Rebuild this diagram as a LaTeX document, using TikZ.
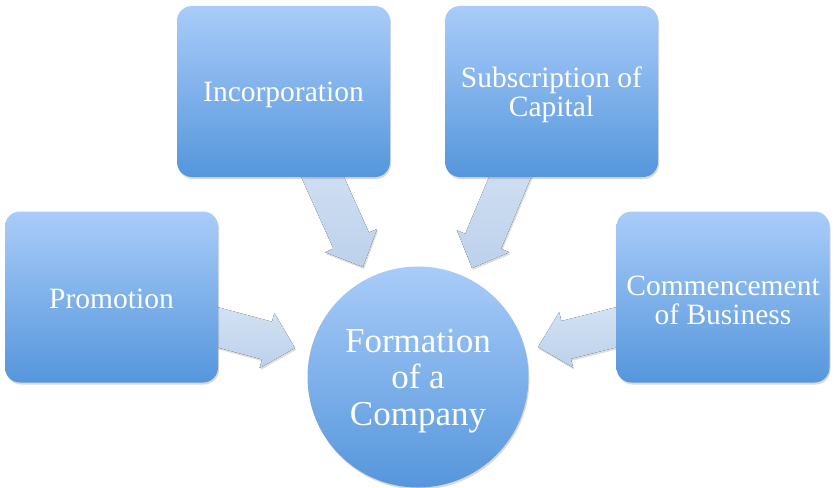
\documentclass[tikz,border=0pt]{standalone}
\usepackage{fontspec}
\setmainfont{Liberation Serif}
\usetikzlibrary{calc,shadows}
\definecolor{boxtop}{HTML}{A9CCF9}
\definecolor{boxbot}{HTML}{5596DC}
\definecolor{arrtop}{HTML}{D6E4F5}
\definecolor{arrbot}{HTML}{BDD1EB}
\tikzset{
  boxnode/.style={rounded corners=15pt, top color=boxtop, bottom color=boxbot,
    draw=none, text=white, align=center, inner sep=0pt,
    minimum width=213pt, minimum height=171pt,
    font=\fontsize{29.5}{29}\selectfont,
    drop shadow={shadow xshift=1pt, shadow yshift=-2pt, opacity=0.3}},
  boxtext/.style={text=white, align=center, inner sep=0pt,
    font=\fontsize{29.5}{29}\selectfont},
  hubnode/.style={circle, top color=boxtop, bottom color=boxbot, draw=none,
    inner sep=0pt, minimum size=221pt,
    drop shadow={shadow xshift=1pt, shadow yshift=-2pt, opacity=0.3}},
  hubtext/.style={text=white, align=center, inner sep=0pt,
    font=\fontsize{35}{36.5}\selectfont},
  arrowfill/.style={top color=arrtop, bottom color=arrbot, draw=none,
    drop shadow={shadow xshift=1pt, shadow yshift=-2pt, opacity=0.25}}
}
\newcommand\blockarrow[2]{%
  \path ($(#2)!29pt!(#1)$) coordinate (neck);
  \fill[arrowfill] ($(#1)!19.5pt!90:(#2)$) -- ($(neck)!19.5pt!-90:(#1)$)
    -- ($(neck)!28.5pt!-90:(#1)$) -- (#2) -- ($(neck)!28.5pt!90:(#1)$)
    -- ($(neck)!19.5pt!90:(#1)$) -- ($(#1)!19.5pt!-90:(#2)$) -- cycle;
}
\begin{document}
\begin{tikzpicture}[x=1pt,y=-1pt]
\fill[white] (0,0) rectangle (834,487);
\useasboundingbox (0,0) rectangle (834,487);
% arrow ends
\coordinate (incT) at (306,140);  \coordinate (incH) at (363,267);
\coordinate (subT) at (526,139);  \coordinate (subH) at (472,268);
\coordinate (proT) at (179,317);  \coordinate (proH) at (295,348);
\coordinate (comT) at (657,317);  \coordinate (comH) at (538,347);
\blockarrow{incT}{incH}
\blockarrow{subT}{subH}
\blockarrow{proT}{proH}
\blockarrow{comT}{comH}
% nodes
\node[boxnode] (inc) at (283.5,91.5) {};
\node[boxnode] (sub) at (551.5,91.5) {};
\node[boxnode] (pro) at (111.5,297) {};
\node[boxnode] (com) at (723,297) {};
\node[hubnode] (form) at (418,377) {};
\node[boxtext] (incL) at ([yshift=-3pt]inc.center) {Incorporation};
\node[boxtext] (subL) at ([yshift=-3pt]sub.center) {Subscription of\\Capital};
\node[boxtext] (proL) at ([yshift=-2pt]pro.center) {Promotion};
\node[boxtext] (comL) at ([yshift=-3pt]com.center) {Commencement\\of Business};
\node[hubtext] (formL) at ([yshift=-4pt]form.center) {Formation\\of a\\Company};
\end{tikzpicture}
\end{document}
